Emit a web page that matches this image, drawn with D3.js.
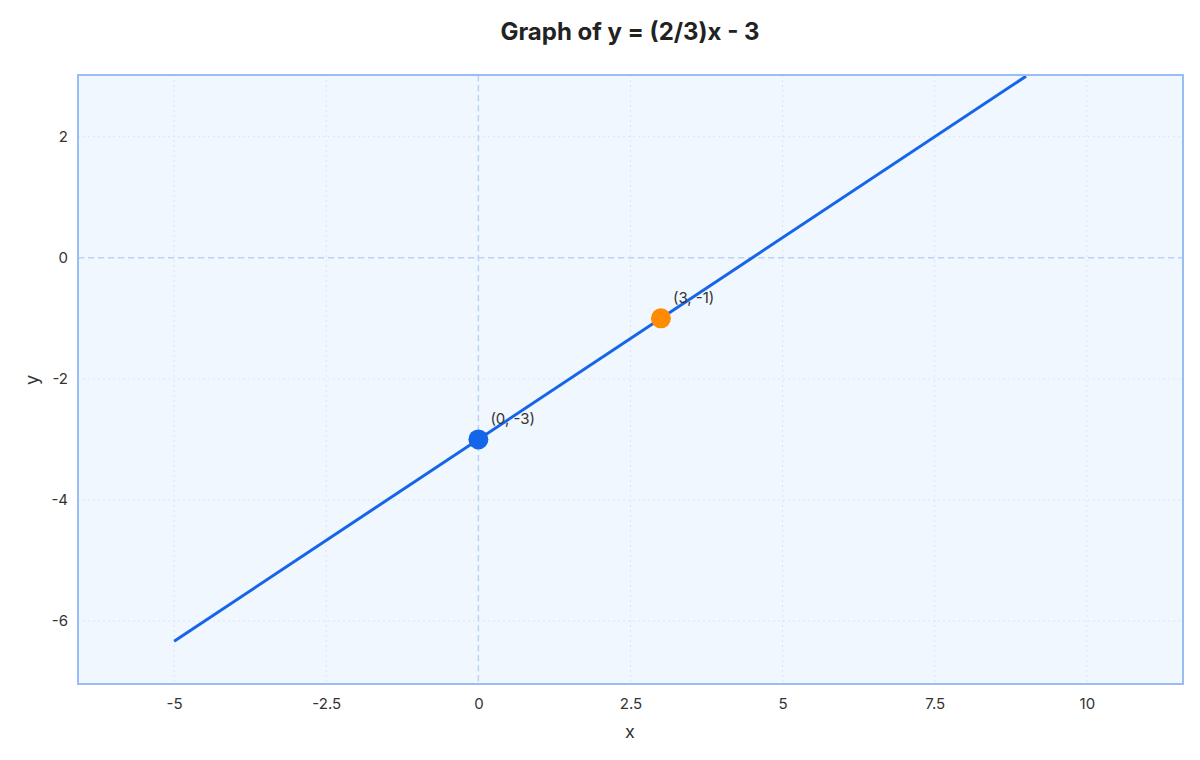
<!DOCTYPE html>
<html><head><meta charset="utf-8">
<script src="https://cdn.jsdelivr.net/npm/d3@7"></script>
<style>body{margin:0;background:#fff;font-family:Inter,"Open Sans",sans-serif}</style>
</head><body><svg id="c" width="1200" height="760"></svg>
<script>
const title = "Graph of y = (2/3)x - 3";
const xTicks = [-5, -2.5, 0, 2.5, 5, 7.5, 10];
const yTicks = [-6, -4, -2, 0, 2];
const lineXs = [-5, 9];
const slope = 2/3, intercept = -3;
const points = [{x:0, y:-3, label:"(0, -3)", color:"#1565e8"}, {x:3, y:-1, label:"(3, -1)", color:"#ff8c00"}];

const svg = d3.select("#c");
const L=78, R=1183, T=75, B=684;
const x = d3.scaleLinear().domain([-6.58, 11.58]).range([L, R]);
const y = d3.scaleLinear().domain([-7.04, 3.02]).range([B, T]);

svg.append("text").attr("x",630).attr("y",40).attr("text-anchor","middle")
  .attr("font-size",24).attr("font-weight","bold").attr("fill","#222").text(title);
svg.append("rect").attr("x",L).attr("y",T).attr("width",R-L).attr("height",B-T).attr("fill","#f1f7fe");
svg.append("defs").append("clipPath").attr("id","cp").append("rect").attr("x",L).attr("y",T).attr("width",R-L).attr("height",B-T);

const g = svg.append("g");
xTicks.forEach(t=>g.append("line").attr("x1",x(t)).attr("x2",x(t)).attr("y1",T).attr("y2",B).attr("stroke","#dbe5f2").attr("stroke-dasharray","2,3"));
yTicks.forEach(t=>g.append("line").attr("y1",y(t)).attr("y2",y(t)).attr("x1",L).attr("x2",R).attr("stroke","#dbe5f2").attr("stroke-dasharray","2,3"));
g.append("line").attr("x1",x(0)).attr("x2",x(0)).attr("y1",T).attr("y2",B).attr("stroke","#bcd3f7").attr("stroke-width",1.5).attr("stroke-dasharray","6,4");
g.append("line").attr("y1",y(0)).attr("y2",y(0)).attr("x1",L).attr("x2",R).attr("stroke","#bcd3f7").attr("stroke-width",1.5).attr("stroke-dasharray","6,4");

const ax = svg.append("g").attr("transform",`translate(0,${B})`).call(d3.axisBottom(x).tickValues(xTicks).tickSize(0).tickPadding(14).tickFormat(d=>String(d)));
const ay = svg.append("g").attr("transform",`translate(${L},0)`).call(d3.axisLeft(y).tickValues(yTicks).tickSize(0).tickPadding(10).tickFormat(d=>String(d)));
[ax,ay].forEach(a=>{a.select(".domain").remove();a.selectAll("text").attr("font-size",15).attr("fill","#333").attr("font-family","Inter,sans-serif");});

svg.append("path").datum(lineXs).attr("clip-path","url(#cp)")
  .attr("d", d3.line().x(d=>x(d)).y(d=>y(slope*d+intercept)))
  .attr("stroke","#1565e8").attr("stroke-width",3).attr("fill","none");

points.forEach(p=>{
  svg.append("circle").attr("cx",x(p.x)).attr("cy",y(p.y)).attr("r",10).attr("fill",p.color);
  svg.append("text").attr("x",x(p.x)+12).attr("y",y(p.y)-15).attr("font-size",15).attr("fill","#333").text(p.label);
});
svg.append("rect").attr("x",L).attr("y",T).attr("width",R-L).attr("height",B-T).attr("fill","none").attr("stroke","#99bdf5").attr("stroke-width",2);

svg.append("text").attr("x",630).attr("y",738).attr("text-anchor","middle").attr("font-size",18).attr("fill","#333").text("x");
svg.append("text").attr("transform","translate(38,380) rotate(-90)").attr("text-anchor","middle").attr("font-size",18).attr("fill","#333").text("y");
</script></body></html>
